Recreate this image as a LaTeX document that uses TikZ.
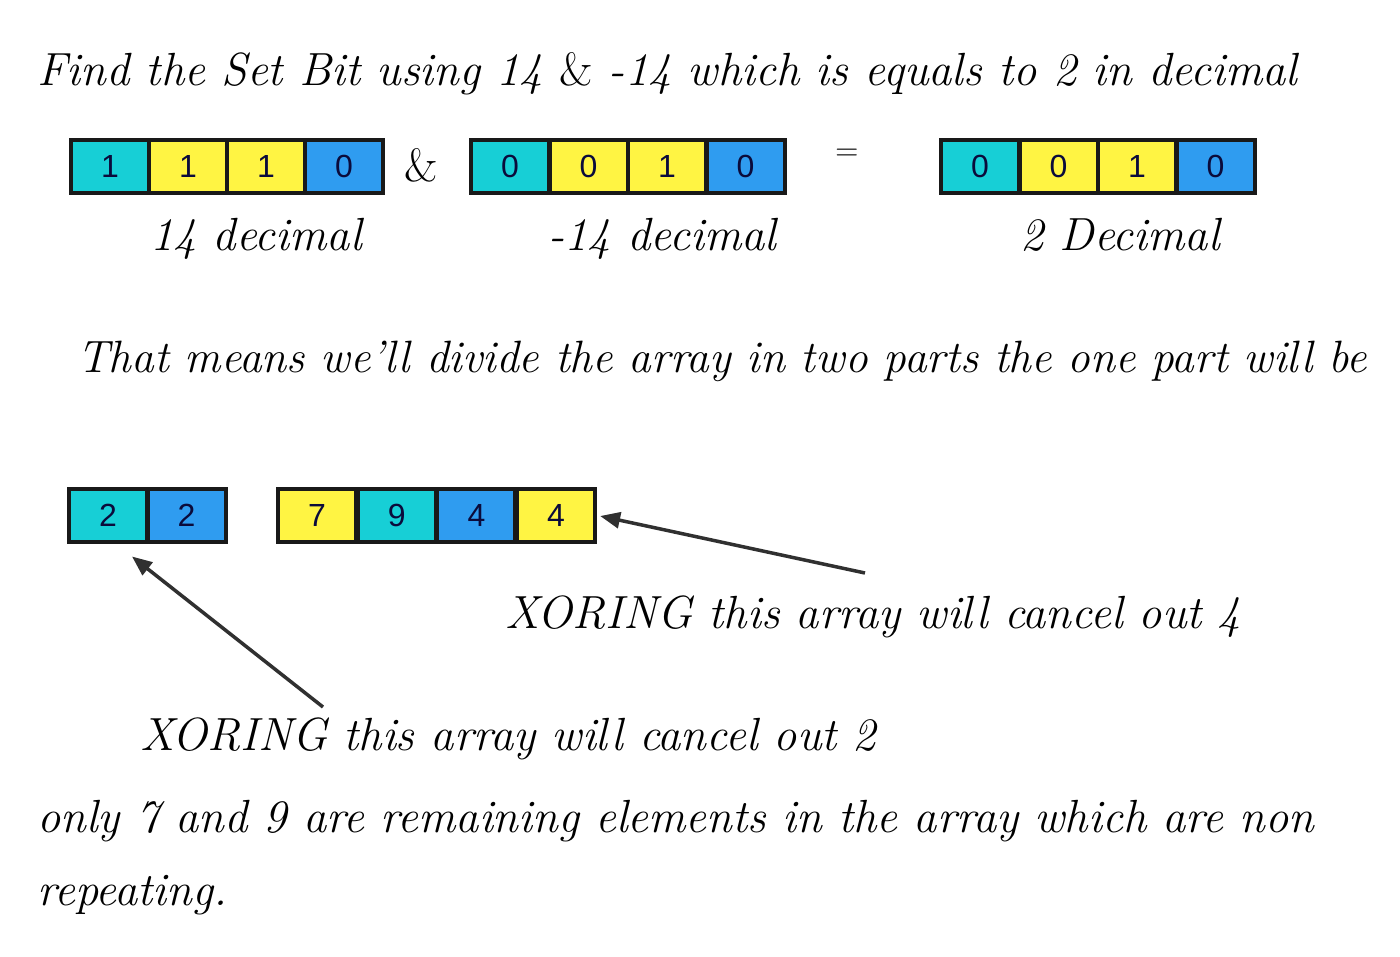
\documentclass[tikz,border=0pt]{standalone}
\usepackage{fontspec}
\newfontfamily\digitfont{Liberation Sans}
\usetikzlibrary{arrows.meta}

\definecolor{cellcyan}{HTML}{17CFD6}
\definecolor{cellyellow}{HTML}{FFF443}
\definecolor{cellblue}{HTML}{2F9CF0}
\definecolor{digitnavy}{HTML}{0B0B3B}
\definecolor{arrowgray}{HTML}{303030}

\tikzset{
  cell/.style={draw=black!90, line width=4pt, minimum width=78pt, minimum height=53pt,
    inner sep=0pt, text=digitnavy, font=\digitfont\fontsize{32}{32}\selectfont},
  hand/.style={anchor=base west, inner sep=0pt, font=\itshape\fontsize{46.5}{54}\selectfont},
  pointer/.style={arrowgray, line width=3.5pt, -{Triangle[length=20pt,width=16pt]}}
}

\begin{document}
\begin{tikzpicture}[x=1pt,y=-1pt]
\fill[white] (0,0) rectangle (1400,956);
\useasboundingbox (0,0) rectangle (1400,956);

% Title line
\node[hand] (title) at (37,85) {Find the Set Bit using 14 {\upshape\&} -14 which is equals to 2 in decimal};

% First row of bit arrays
\foreach \v/\c [count=\i] in {1/cellcyan,1/cellyellow,1/cellyellow,0/cellblue}
  \node[cell, fill=\c] (A\i) at ({110+78*(\i-1)},166) {\v};
\foreach \v/\c [count=\i] in {0/cellcyan,0/cellyellow,1/cellyellow,0/cellblue}
  \node[cell, fill=\c] (B\i) at ({510+78.5*(\i-1)},166) {\v};
\foreach \v/\c [count=\i] in {0/cellcyan,0/cellyellow,1/cellyellow,0/cellblue}
  \node[cell, fill=\c] (C\i) at ({980+78.5*(\i-1)},166) {\v};

\node[hand, anchor=center] (amp) at (421,165) {\upshape\&};
\node[hand, anchor=center, font=\fontsize{32}{32}\selectfont] (eq) at (847,155) {=};

\node[hand] (lblA) at (150,250) {14 decimal};
\node[hand] (lblB) at (548,250) {-14 decimal};
\node[hand] (lblC) at (1020,250) {2 Decimal};

% Middle sentence
\node[hand, font=\itshape\fontsize{45.3}{54}\selectfont] (means) at (77,372)
  {That means we'll divide the array in two parts the one part will be};

% Second row: the two parts
\foreach \v/\c [count=\i] in {2/cellcyan,2/cellblue}
  \node[cell, fill=\c] (D\i) at ({108+78.5*(\i-1)},515) {\v};
\foreach \v/\c [count=\i] in {7/cellyellow,9/cellcyan,4/cellblue,4/cellyellow}
  \node[cell, fill=\c] (E\i) at ({317+79.7*(\i-1)},515) {\v};

\node[hand] (xorE) at (505,628) {XORING this array will cancel out 4};
\node[hand] (xorD) at (140,750) {XORING this array will cancel out 2};

\coordinate (tailE) at (865,573);
\coordinate (tailD) at (323,707);
\draw[pointer] (tailE) -- ([xshift=3pt,yshift=-1pt]E4.east);
\draw[pointer] (tailD) -- ([xshift=24pt,yshift=-13pt]D1.south);

% Closing remark
\node[hand] (rest1) at (37,832) {only 7 and 9 are remaining elements in the array which are non};
\node[hand] (rest2) at (37,905) {repeating.};
\end{tikzpicture}
\end{document}
